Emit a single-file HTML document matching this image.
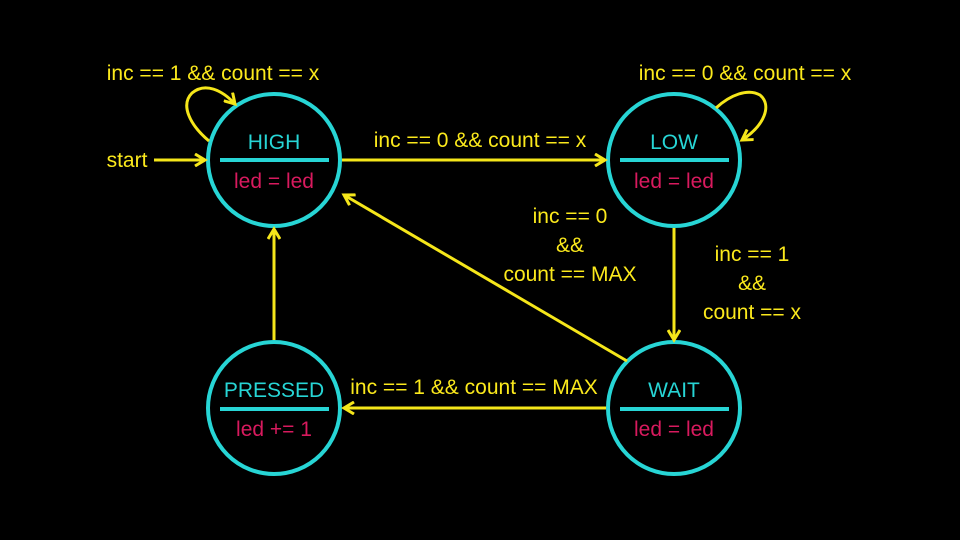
<!DOCTYPE html>
<html><head><style>
body{margin:0;background:#000;}
svg{display:block;}
text{font-family:"Liberation Sans",sans-serif;font-size:21px;}
.y{fill:#fbe91c;}
.c{fill:#27d5d5;}
.p{fill:#d81a5e;}
</style></head><body>
<svg width="960" height="540" viewBox="0 0 960 540">
<defs>
<marker id="a" markerWidth="14" markerHeight="14" refX="11" refY="7" orient="auto" markerUnits="userSpaceOnUse">
<path d="M1,1 L11,7 L1,13" fill="none" stroke="#f5e61a" stroke-width="3"/>
</marker>
</defs>
<g fill="none" stroke="#27d5d5" stroke-width="4">
<circle cx="274" cy="160" r="66"/>
<circle cx="674" cy="160" r="66"/>
<circle cx="274" cy="408" r="66"/>
<circle cx="674" cy="408" r="66"/>
<line x1="220" y1="160" x2="329" y2="160"/>
<line x1="620" y1="160" x2="729" y2="160"/>
<line x1="220" y1="409" x2="329" y2="409"/>
<line x1="620" y1="409" x2="729" y2="409"/>
</g>
<g fill="none" stroke="#f5e61a" stroke-width="3" marker-end="url(#a)">
<line x1="154" y1="160" x2="205" y2="160"/>
<line x1="342" y1="160" x2="605" y2="160"/>
<line x1="674" y1="228" x2="674" y2="340"/>
<line x1="606" y1="408" x2="344" y2="408"/>
<line x1="274" y1="340" x2="274" y2="229"/>
<line x1="627" y1="361" x2="344" y2="195"/>
<path d="M209,141 C190,125 180,105 192,93 C205,82 222,90 235,104"/>
<path d="M716,108 C730,95 748,88 760,95 C772,105 765,125 742,140"/>
</g>
<g text-anchor="middle">
<text x="274" y="149" class="c">HIGH</text>
<text x="274" y="188" class="p">led = led</text>
<text x="674" y="149" class="c">LOW</text>
<text x="674" y="188" class="p">led = led</text>
<text x="274" y="397" class="c">PRESSED</text>
<text x="274" y="436" class="p">led += 1</text>
<text x="674" y="397" class="c">WAIT</text>
<text x="674" y="436" class="p">led = led</text>
<text x="213" y="80" class="y">inc == 1 &amp;&amp; count == x</text>
<text x="745" y="80" class="y">inc == 0 &amp;&amp; count == x</text>
<text x="480" y="147" class="y">inc == 0 &amp;&amp; count == x</text>
<text x="570" y="223" class="y">inc == 0</text>
<text x="570" y="252" class="y">&amp;&amp;</text>
<text x="570" y="281" class="y">count == MAX</text>
<text x="752" y="261" class="y">inc == 1</text>
<text x="752" y="290" class="y">&amp;&amp;</text>
<text x="752" y="319" class="y">count == x</text>
<text x="474" y="394" class="y">inc == 1 &amp;&amp; count == MAX</text>
<text x="127" y="167" class="y">start</text>
</g>
</svg>
</body></html>
